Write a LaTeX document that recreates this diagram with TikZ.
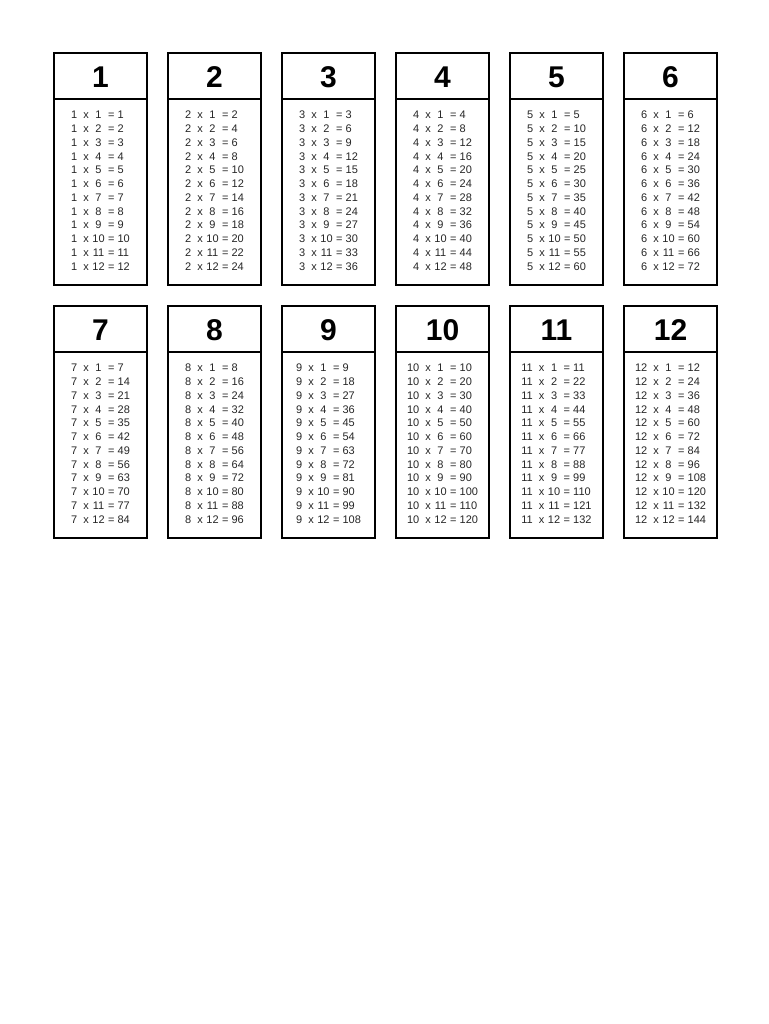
\documentclass[tikz,border=0pt]{standalone}
\usepackage{fontspec}
\setmainfont{Liberation Sans}
\tikzset{x=1pt,y=-1pt,
 frame/.style={draw=black,line width=2.4pt},
 head/.style={font=\fontsize{30}{30}\selectfont\bfseries},
 eq/.style={font=\fontsize{11}{11}\selectfont,text=black!85,inner sep=0pt}}
\newcommand{\eqln}[5]{{\setbox0\hbox{#4}\makebox[\wd0][r]{#1}}\ \ x\ \makebox[1.2em]{#2}\ =\ {\setbox0\hbox{#5}\makebox[\wd0][l]{#3}}}
\begin{document}
\begin{tikzpicture}
\useasboundingbox (0,0) rectangle (768,1024);
\fill[white] (0,0) rectangle (768,1024);
\foreach \n in {1,...,12}{
  \pgfmathtruncatemacro{\col}{mod(\n-1,6)}
  \pgfmathtruncatemacro{\row}{(\n-1)/6}
  \pgfmathsetmacro{\L}{54+114*\col}
  \pgfmathsetmacro{\T}{\row==0 ? 53 : 306}
  \pgfmathsetmacro{\D}{\T+46}
  \pgfmathsetmacro{\B}{\T+232}
  \pgfmathtruncatemacro{\mc}{12*\n}
  \draw[frame] (\L,\T) rectangle (\L+93,\B);
  \draw[frame] (\L,\D) -- (\L+93,\D);
  \node[head] (h\n) at (\L+46.5,\T+24) {\n};
  \foreach \k in {1,...,12}{
    \pgfmathtruncatemacro{\p}{\n*\k}
    \node[eq] (e\n-\k) at (\L+46.5,\T+62+13.75*\k-13.75) {\eqln{\n}{\k}{\p}{\n}{\mc}};
  }
}
\end{tikzpicture}
\end{document}
